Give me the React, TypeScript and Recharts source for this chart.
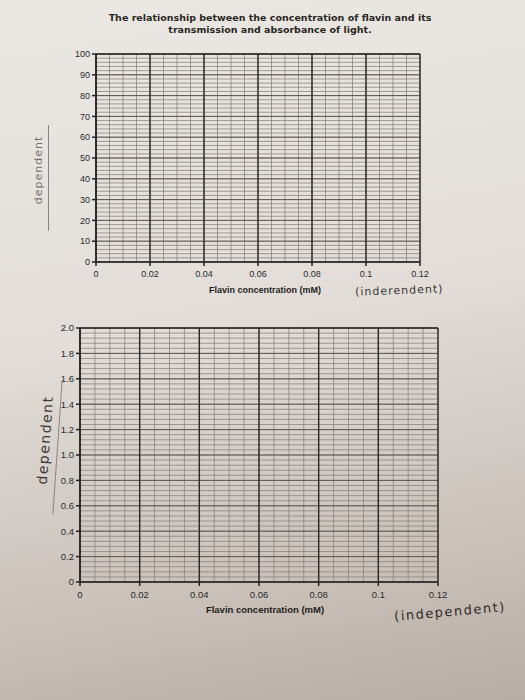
import { LineChart, Line, XAxis, YAxis, CartesianGrid } from "recharts";

// x axis (shared by both grids)
const xTicks = [0, 0.02, 0.04, 0.06, 0.08, 0.1, 0.12];
const xMinor = [0, 0.005, 0.01, 0.015, 0.02, 0.025, 0.03, 0.035, 0.04, 0.045, 0.05, 0.055, 0.06, 0.065, 0.07, 0.075, 0.08, 0.085, 0.09, 0.095, 0.1, 0.105, 0.11, 0.115, 0.12];

// transmission (%) grid
const transTicks = [0, 10, 20, 30, 40, 50, 60, 70, 80, 90, 100];
const transMinor = [0, 2, 4, 6, 8, 10, 12, 14, 16, 18, 20, 22, 24, 26, 28, 30, 32, 34, 36, 38, 40, 42, 44, 46, 48, 50, 52, 54, 56, 58, 60, 62, 64, 66, 68, 70, 72, 74, 76, 78, 80, 82, 84, 86, 88, 90, 92, 94, 96, 98, 100];

// absorbance grid
const absTicks = [0, 0.2, 0.4, 0.6, 0.8, 1.0, 1.2, 1.4, 1.6, 1.8, 2.0];
const absMinor = [0, 0.04, 0.08, 0.12, 0.16, 0.2, 0.24, 0.28, 0.32, 0.36, 0.4, 0.44, 0.48, 0.52, 0.56, 0.6, 0.64, 0.68, 0.72, 0.76, 0.8, 0.84, 0.88, 0.92, 0.96, 1.0, 1.04, 1.08, 1.12, 1.16, 1.2, 1.24, 1.28, 1.32, 1.36, 1.4, 1.44, 1.48, 1.52, 1.56, 1.6, 1.64, 1.68, 1.72, 1.76, 1.8, 1.84, 1.88, 1.92, 1.96, 2.0];

// worksheet is blank: no measurements yet
const transData: { conc: number; value: number | null }[] = xTicks.map((c) => ({ conc: c, value: null }));
const absData: { conc: number; value: number | null }[] = xTicks.map((c) => ({ conc: c, value: null }));

const TICK = { fill: "#2a2a2a", fontSize: 9, fontFamily: "Liberation Sans, Arial, sans-serif" };
const HAND = "'DejaVu Sans', sans-serif";

const fmtX = (v: number) => (v === 0 ? "0" : String(v));

type GridProps = {
  width: number;
  height: number;
  margin: { top: number; left: number; right: number; bottom: number };
  data: { conc: number; value: number | null }[];
  yTicks: number[];
  yMinor: number[];
  yMax: number;
  fmtY: (v: number) => string;
  fontSize: number;
};

const GraphGrid = ({ width, height, margin, data, yTicks, yMinor, yMax, fmtY, fontSize }: GridProps) => (
  <LineChart width={width} height={height} data={data} margin={margin}>
    <CartesianGrid
      stroke="#8a847f"
      strokeWidth={0.8}
      verticalValues={xMinor}
      horizontalValues={yMinor}
    />
    {/* heavier lines every 10 units (y) and every 0.02 mM (x) */}
    <CartesianGrid stroke="#5e5955" strokeWidth={1} vertical={false} horizontalValues={yTicks} />
    <CartesianGrid stroke="#2a2725" strokeWidth={1.4} horizontal={false} verticalValues={xTicks} />
    <CartesianGrid stroke="#2a2725" strokeWidth={1.4} vertical={false} horizontalValues={[yMax]} />
    <XAxis
      dataKey="conc"
      type="number"
      domain={[0, 0.12]}
      allowDataOverflow
      ticks={xTicks}
      tickFormatter={fmtX}
      interval={0}
      tick={{ ...TICK, fontSize }}
      tickSize={4}
      tickMargin={5}
      stroke="#222"
      strokeWidth={1.5}
      height={30}
    />
    <YAxis
      type="number"
      domain={[0, yMax]}
      allowDataOverflow
      ticks={yTicks}
      tickFormatter={fmtY}
      interval={0}
      tick={{ ...TICK, fontSize }}
      tickSize={4}
      tickMargin={2}
      stroke="#222"
      strokeWidth={1.5}
      width={30}
    />
    <Line dataKey="value" stroke="#222" dot={false} isAnimationActive={false} />
  </LineChart>
);

const App = () => (
  <div
    style={{
      position: "absolute",
      left: 0,
      top: 0,
      width: 525,
      height: 700,
      overflow: "hidden",
      background: "linear-gradient(170deg, #ebe8e4 0%, #e2ddd8 45%, #c9c0b9 80%, #b8ada5 100%)",
    }}
  >
    <div
      style={{
        position: "absolute",
        left: 60,
        top: 12,
        width: 420,
        textAlign: "center",
        fontFamily: "'DejaVu Sans', sans-serif",
        fontWeight: "bold",
        fontSize: 9.5,
        lineHeight: "12px",
        color: "#2a2623",
      }}
    >
      The relationship between the concentration of flavin and its
      <br />
      transmission and absorbance of light.
    </div>

    <div style={{ position: "absolute", left: 0, top: 0 }}>
      <GraphGrid
        width={525}
        height={300}
        margin={{ top: 54, left: 66, right: 105, bottom: 8 }}
        data={transData}
        yTicks={transTicks}
        yMinor={transMinor}
        yMax={100}
        fmtY={(v) => String(v)}
        fontSize={9}
      />
    </div>
    <div
      style={{
        position: "absolute",
        left: 150,
        top: 285,
        width: 230,
        textAlign: "center",
        fontFamily: "Liberation Sans, Arial, sans-serif",
        fontWeight: "bold",
        fontSize: 9,
        color: "#1f1d1b",
      }}
    >
      Flavin concentration (mM)
    </div>

    <div style={{ position: "absolute", left: 0, top: 300 }}>
      <GraphGrid
        width={525}
        height={320}
        margin={{ top: 28, left: 50, right: 87, bottom: 8 }}
        data={absData}
        yTicks={absTicks}
        yMinor={absMinor}
        yMax={2}
        fmtY={(v) => (v === 0 ? "0" : v.toFixed(1))}
        fontSize={9.5}
      />
    </div>
    <div
      style={{
        position: "absolute",
        left: 145,
        top: 604,
        width: 240,
        textAlign: "center",
        fontFamily: "Liberation Sans, Arial, sans-serif",
        fontWeight: "bold",
        fontSize: 9.5,
        color: "#1f1d1b",
      }}
    >
      Flavin concentration (mM)
    </div>

    {/* handwritten notes */}
    <div style={{ position: "absolute", left: 48, top: 125, width: 1, height: 106, background: "#8a837e" }} />
    <div
      style={{
        position: "absolute",
        left: 38,
        top: 170,
        transform: "translate(-50%, -50%) rotate(-90deg)",
        fontFamily: HAND,
        fontSize: 11,
        letterSpacing: 1,
        color: "#77706a",
        whiteSpace: "nowrap",
      }}
    >
      dependent
    </div>
    <div
      style={{
        position: "absolute",
        left: 355,
        top: 284,
        transform: "rotate(-2deg)",
        fontFamily: HAND,
        fontSize: 11,
        letterSpacing: 1,
        color: "#3a3633",
        whiteSpace: "nowrap",
      }}
    >
      (inderendent)
    </div>

    <div style={{ position: "absolute", left: 57, top: 380, width: 1, height: 135, background: "#8a837e", transform: "rotate(4deg)" }} />
    <div
      style={{
        position: "absolute",
        left: 45,
        top: 440,
        transform: "translate(-50%, -50%) rotate(-86deg)",
        fontFamily: HAND,
        fontSize: 14,
        letterSpacing: 1.5,
        color: "#3f3a36",
        whiteSpace: "nowrap",
      }}
    >
      dependent
    </div>
    <div
      style={{
        position: "absolute",
        left: 394,
        top: 604,
        transform: "rotate(-5deg)",
        fontFamily: HAND,
        fontSize: 13,
        letterSpacing: 1.5,
        color: "#2e2a27",
        whiteSpace: "nowrap",
      }}
    >
      (independent)
    </div>
  </div>
);

export default App;
